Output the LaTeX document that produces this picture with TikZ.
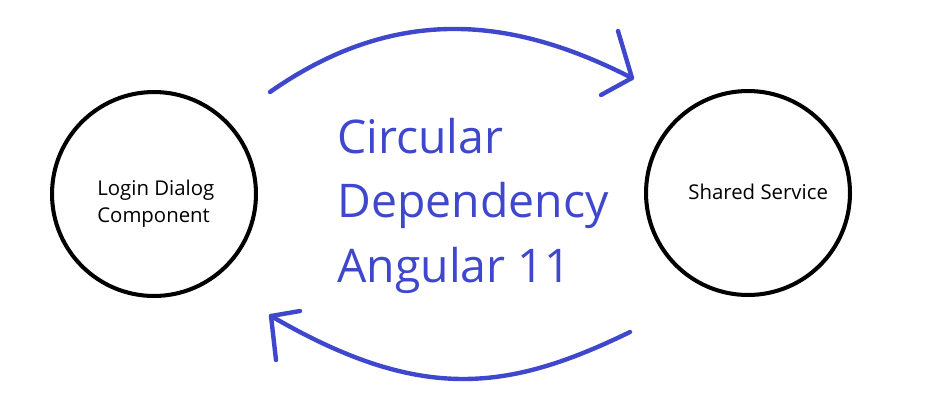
\documentclass[tikz,border=0pt]{standalone}
\usepackage{fontspec}
\setmainfont{Open Sans}
\usepackage{tikz}
\definecolor{indigo}{RGB}{63,72,204}
\tikzset{
	party/.style={circle,draw=black,line width=2.3pt,minimum size=4.08cm,inner sep=0pt},
	caption/.style={anchor=base west,align=left,inner sep=0pt,font=\fontsize{11.6}{15.3}\selectfont},
	flow/.style={draw=indigo,line width=2.5pt,line cap=round,line join=round}
}

\begin{document}
\begin{tikzpicture}[x=0.02cm,y=-0.02cm]
		\useasboundingbox (0,0) rectangle (929,413);
%		\draw[help lines,step=50] (0,0) grid (929,413);
		\path (154,194) node(login) [party] {};
		\path (748,193) node(service) [party] {};
		\path (97,222) node(login_name) [caption] {Login Dialog\\Component};
		\path (688,199) node(service_name) [caption] {Shared Service};
		\path (337,282) node(title) [caption,text=indigo,font=\fontsize{26.4}{36.6}\selectfont] {Circular\\Dependency\\Angular 11};
		\path (270,92) coordinate (top_start);
		\path (632,78) coordinate (top_tip);
		\path (618,31) coordinate (top_arm1);
		\path (601,95) coordinate (top_arm2);
		\path (630,332) coordinate (bot_start);
		\path (271,316) coordinate (bot_tip);
		\path (300,311) coordinate (bot_arm1);
		\path (276,360) coordinate (bot_arm2);

		% login -> service
		\draw[flow] (top_start) .. controls (403.5,-1.5) and (522.5,22.2) .. (top_tip);
		\draw[flow] (top_arm1) -- (top_tip) -- (top_arm2);
		% service -> login
		\draw[flow] (bot_start) .. controls (506.6,392.1) and (419.8,402.5) .. (bot_tip);
		\draw[flow] (bot_arm1) -- (bot_tip) -- (bot_arm2);
	\end{tikzpicture}
\end{document}
